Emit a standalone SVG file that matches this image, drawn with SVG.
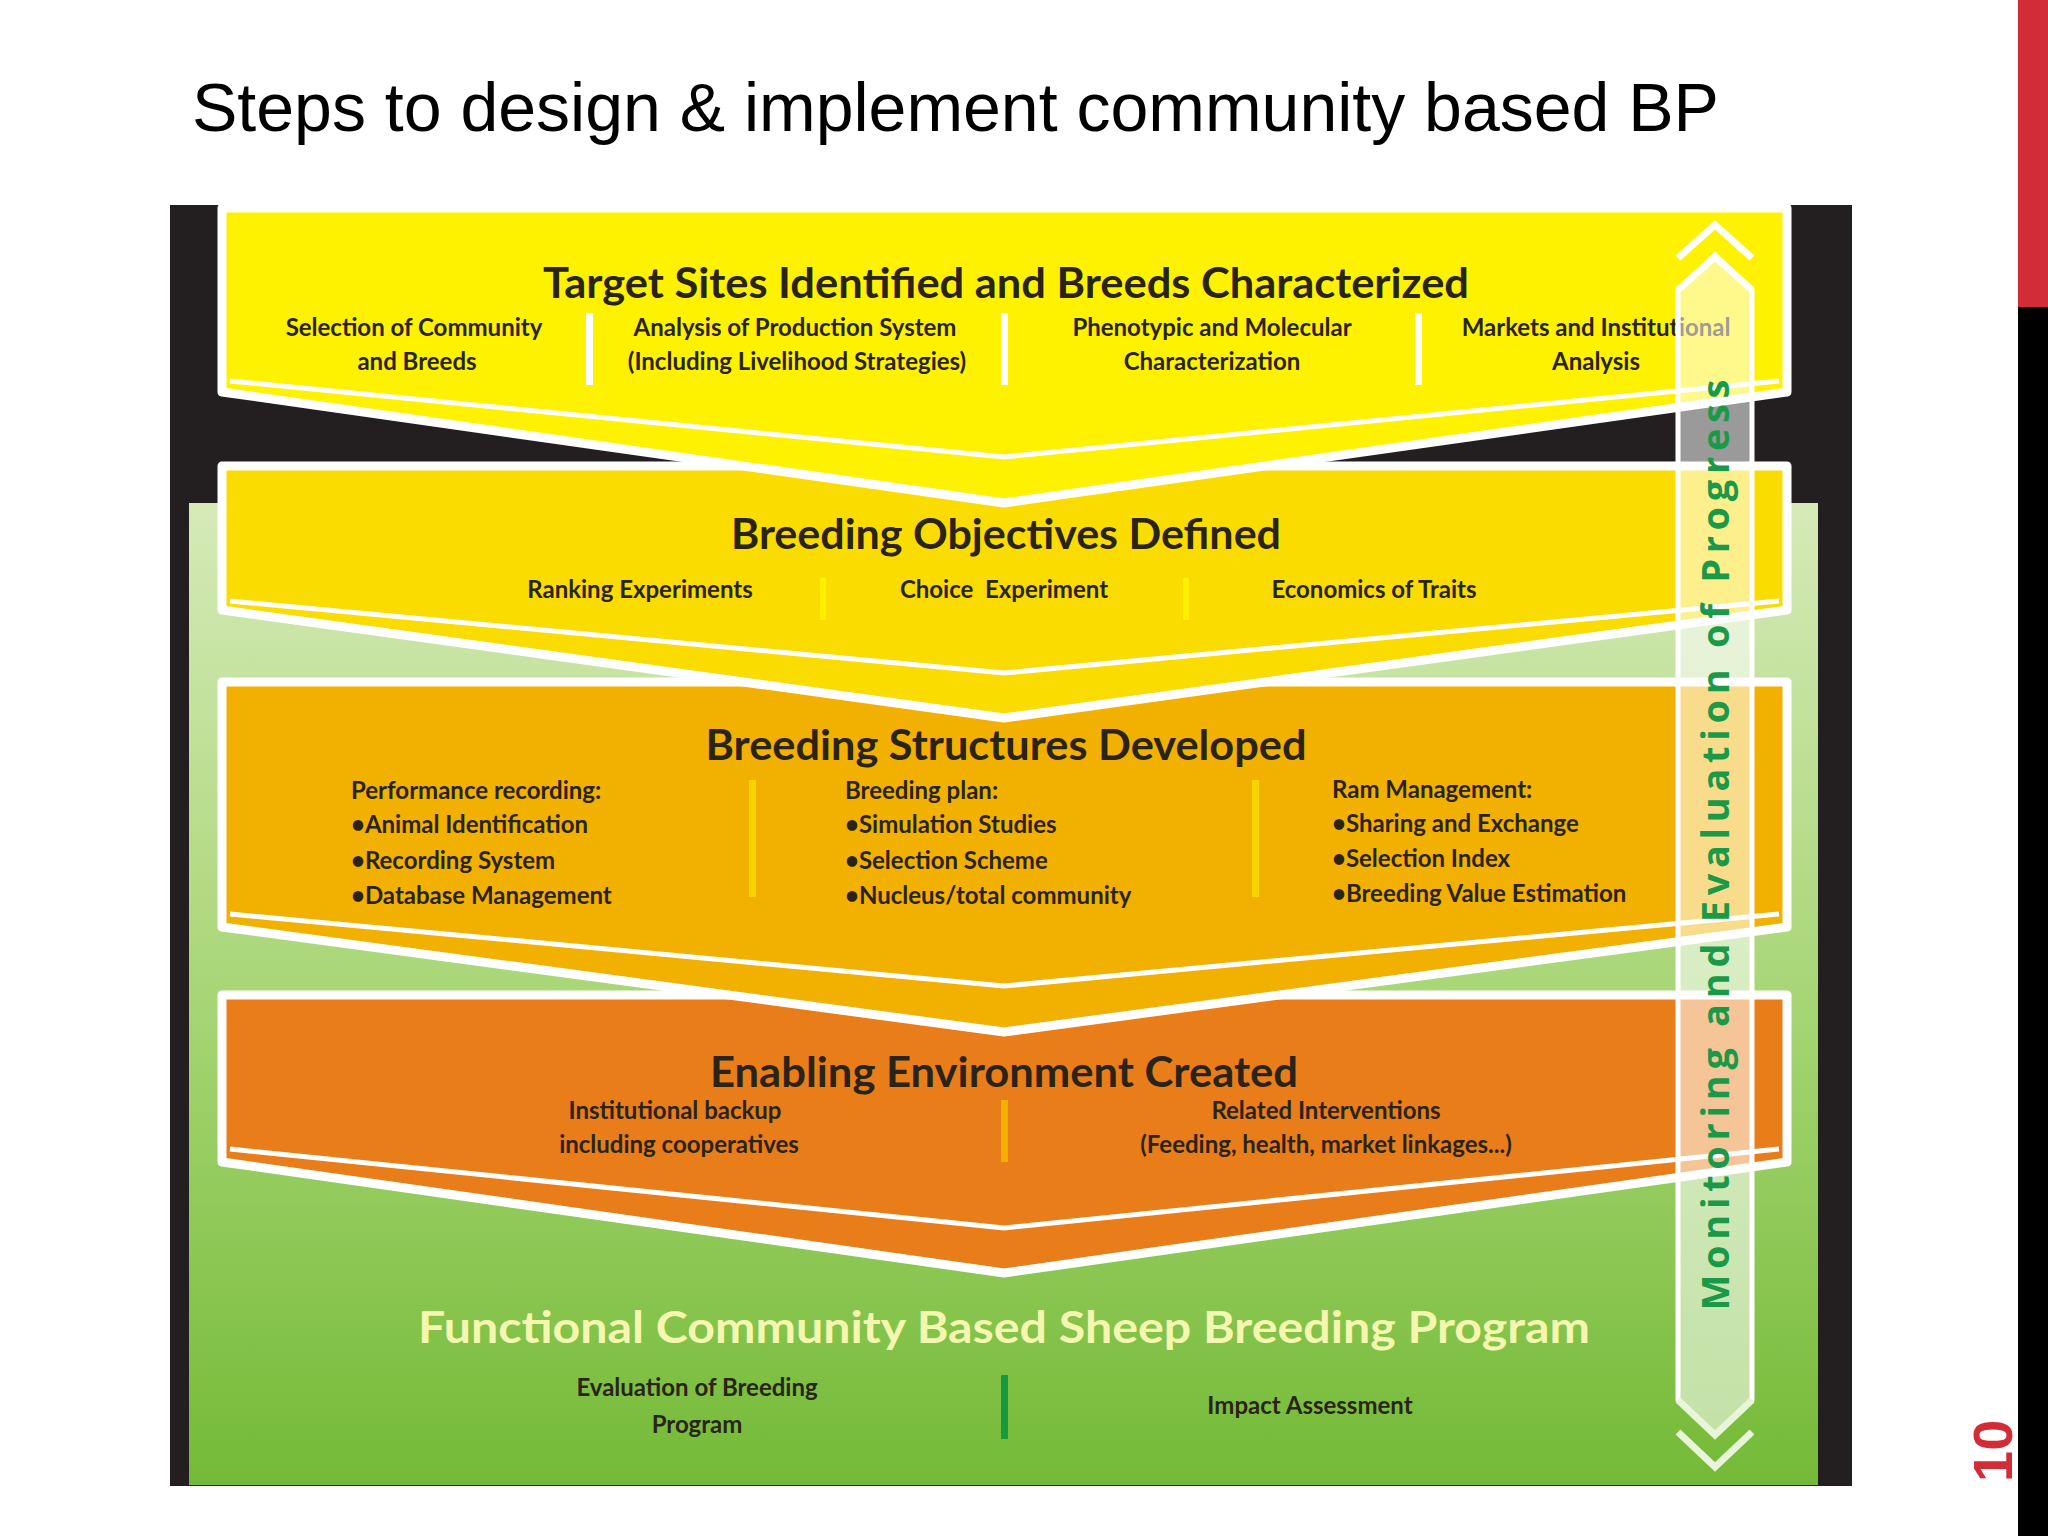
<svg xmlns="http://www.w3.org/2000/svg" width="2048" height="1536" viewBox="0 0 2048 1536">
<defs>
<linearGradient id="gbg" x1="0" y1="0" x2="0" y2="1">
<stop offset="0" stop-color="#d6eab8"/><stop offset="0.5" stop-color="#a8d676"/><stop offset="1" stop-color="#74ba36"/>
</linearGradient>
<style>
.band{stroke:#fff;stroke-width:9;stroke-linejoin:round}
.inner{fill:none;stroke:#fff;stroke-width:5}
.t{font-family:Lato,"Open Sans",sans-serif;font-weight:bold;fill:#2a2418;text-anchor:middle}
.h{font-size:42px}
.s{font-size:24px}
.l{font-family:Lato,"Open Sans",sans-serif;font-weight:bold;fill:#2a2418;font-size:24px}
</style>
</defs>
<rect width="2048" height="1536" fill="#fff"/>
<rect x="2018" y="0" width="30" height="307" fill="#d22d36"/>
<rect x="2018" y="307" width="30" height="1229" fill="#000"/>
<text x="192" y="131" font-family="Liberation Sans,Arial,sans-serif" font-size="68" fill="#000">Steps to design &amp; implement community based BP</text>
<text transform="translate(2012,1482) rotate(-90)" font-family="Liberation Sans,Arial,sans-serif" font-size="56" font-weight="bold" fill="#d22d36">10</text>
<rect x="170" y="205" width="1682" height="1281" fill="#231f20"/>
<rect x="189" y="503" width="1629" height="982" fill="url(#gbg)"/>
<g id="band4">
<polygon class="band" fill="#e87d1a" points="222,995 1787,995 1787,1162 1004,1273 222,1162"/>
<polyline class="inner" points="230,1149 1004,1228 1779,1149"/>
</g>
<g id="band3">
<polygon class="band" fill="#f2b000" points="222,682 1787,682 1787,927 1004,1032 222,927"/>
<polyline class="inner" points="230,914 1004,986 1779,914"/>
</g>
<g id="band2">
<polygon class="band" fill="#fadc00" points="222,466 1787,466 1787,610 1004,718 222,610"/>
<polyline class="inner" points="230,601 1004,673 1779,601"/>
</g>
<g id="band1">
<polygon class="band" fill="#fff200" points="222,208 1787,208 1787,392 1004,503 222,392"/>
<polyline class="inner" points="230,381 1004,457 1779,381"/>
</g>
<g id="dividers">
<rect x="586" y="313" width="7" height="72" fill="#fff"/>
<rect x="1001" y="313" width="7" height="72" fill="#fff"/>
<rect x="1415" y="313" width="7" height="72" fill="#fff"/>
<rect x="820" y="578" width="6" height="42" fill="#fff000"/>
<rect x="1183" y="578" width="6" height="42" fill="#fff000"/>
<rect x="749" y="780" width="7" height="117" fill="#f9d300"/>
<rect x="1252" y="780" width="7" height="117" fill="#f9d300"/>
<rect x="1001" y="1100" width="7" height="62" fill="#f2b000"/>
<rect x="1001" y="1375" width="7" height="64" fill="#159a3e"/>
</g>
<g id="t1">
<text class="t h" x="1006" y="298" textLength="926" lengthAdjust="spacingAndGlyphs">Target Sites Identified and Breeds Characterized</text>
<text class="t s" x="414" y="336">Selection of Community</text><text class="t s" x="417" y="370">and Breeds</text>
<text class="t s" x="795" y="336">Analysis of Production System</text><text class="t s" x="797" y="370">(Including Livelihood Strategies)</text>
<text class="t s" x="1212" y="336">Phenotypic and Molecular</text><text class="t s" x="1212" y="370">Characterization</text>
<text class="t s" x="1596" y="336">Markets and Institutional</text><text class="t s" x="1596" y="370">Analysis</text>
</g>
<g id="t2">
<text class="t h" x="1006" y="549" textLength="550" lengthAdjust="spacingAndGlyphs">Breeding Objectives Defined</text>
<text class="t s" x="640" y="598">Ranking Experiments</text>
<text class="t s" x="1004" y="598" xml:space="preserve">Choice  Experiment</text>
<text class="t s" x="1374" y="598">Economics of Traits</text>
</g>
<g id="t3">
<text class="t h" x="1006" y="760" textLength="601" lengthAdjust="spacingAndGlyphs">Breeding Structures Developed</text>
<text class="l" x="351" y="799">Performance recording:</text>
<text class="l" x="351" y="833">•Animal Identification</text>
<text class="l" x="351" y="869">•Recording System</text>
<text class="l" x="351" y="904">•Database Management</text>
<text class="l" x="845" y="799">Breeding plan:</text>
<text class="l" x="845" y="833">•Simulation Studies</text>
<text class="l" x="845" y="869">•Selection Scheme</text>
<text class="l" x="845" y="904">•Nucleus/total community</text>
<text class="l" x="1332" y="798">Ram Management:</text>
<text class="l" x="1332" y="832">•Sharing and Exchange</text>
<text class="l" x="1332" y="867">•Selection Index</text>
<text class="l" x="1332" y="902">•Breeding Value Estimation</text>
</g>
<g id="t4">
<text class="t h" x="1004" y="1087" textLength="588" lengthAdjust="spacingAndGlyphs">Enabling Environment Created</text>
<text class="t s" x="675" y="1119">Institutional backup</text>
<text class="t s" x="679" y="1153">including cooperatives</text>
<text class="t s" x="1326" y="1119">Related Interventions</text>
<text class="t s" x="1326" y="1153">(Feeding, health, market linkages...)</text>
</g>
<g id="t5">
<text class="t" x="1004" y="1343" font-size="44" style="fill:#f5f7b0" textLength="1172" lengthAdjust="spacingAndGlyphs">Functional Community Based Sheep Breeding Program</text>
<text class="t s" x="697" y="1396">Evaluation of Breeding</text>
<text class="t s" x="697" y="1433">Program</text>
<text class="t s" x="1310" y="1414">Impact Assessment</text>
</g>
<g id="arrow">
<path d="M1678,290 L1715,255 L1752,290 L1752,1400 L1715,1435 L1678,1400 Z" fill="#fff" fill-opacity="0.55" stroke="#fff" stroke-width="5"/>
<polyline points="1678,258 1715,225 1752,258" fill="none" stroke="#fff" stroke-width="7"/>
<polyline points="1678,290 1715,257 1752,290" fill="none" stroke="#fff" stroke-width="7"/>
<polyline points="1678,1400 1715,1435 1752,1400" fill="none" stroke="#e8f5d8" stroke-width="7"/>
<polyline points="1678,1432 1715,1467 1752,1432" fill="none" stroke="#e8f5d8" stroke-width="7"/>
<text transform="translate(1729,845) rotate(-90)" font-family="'Open Sans',Lato,sans-serif" font-weight="bold" font-size="38" fill="#1a9a48" text-anchor="middle" textLength="931" lengthAdjust="spacing">Monitoring and Evaluation of Progress</text>
</g>
</svg>
